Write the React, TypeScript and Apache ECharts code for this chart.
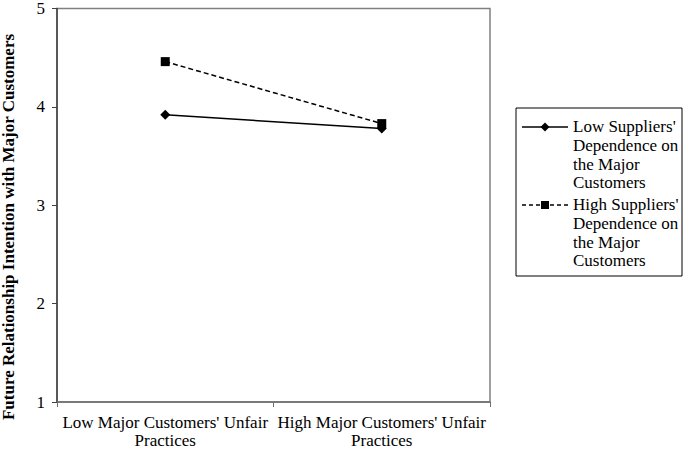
import React, { useEffect, useRef } from "react";
import * as echarts from "echarts";

const categories = [
  "Low Major Customers' Unfair\nPractices",
  "High Major Customers' Unfair\nPractices",
];
const lowDependence = [3.92, 3.78];
const highDependence = [4.46, 3.83];
const lowName = "Low Suppliers'\nDependence on\nthe Major\nCustomers";
const highName = "High Suppliers'\nDependence on\nthe Major\nCustomers";
const yAxisTitle = "Future Relationship Intention with Major Customers";

const FONT = "Liberation Serif";

export default function App() {
  const ref = useRef<HTMLDivElement>(null);
  useEffect(() => {
    if (!ref.current) return;
    const chart = echarts.init(ref.current, null, { renderer: "svg" });
    const diamond = (cx: number, cy: number, r: number) => [
      [cx, cy - r],
      [cx + r, cy],
      [cx, cy + r],
      [cx - r, cy],
    ];
    chart.setOption({
      animation: false,
      backgroundColor: "#fff",
      textStyle: { fontFamily: FONT },
      grid: {
        left: 57,
        top: 6,
        right: 195,
        bottom: 46,
        show: true,
        borderColor: "#808080",
        borderWidth: 1.5,
        backgroundColor: "transparent",
      },
      xAxis: {
        type: "category",
        data: categories,
        boundaryGap: true,
        axisLine: { show: true, lineStyle: { color: "#6e6e6e", width: 1.5 } },
        axisTick: { show: true, length: 5, lineStyle: { color: "#6e6e6e", width: 1 } },
        axisLabel: {
          margin: 11,
          color: "#000",
          fontFamily: FONT,
          fontSize: 17,
          lineHeight: 18,
          interval: 0,
        },
        splitLine: { show: false },
      },
      yAxis: {
        type: "value",
        min: 1,
        max: 5,
        interval: 1,
        axisLine: { show: true, lineStyle: { color: "#404040", width: 1.5 } },
        axisTick: { show: true, length: 5, lineStyle: { color: "#404040", width: 1 } },
        axisLabel: { margin: 12, color: "#000", fontFamily: FONT, fontSize: 17 },
        splitLine: { show: false },
      },
      series: [
        {
          name: lowName,
          type: "line",
          data: lowDependence,
          symbol: "diamond",
          symbolSize: 10,
          lineStyle: { color: "#000", width: 1.5, type: "solid" },
          itemStyle: { color: "#000" },
          z: 3,
        },
        {
          name: highName,
          type: "line",
          data: highDependence,
          symbol: "rect",
          symbolSize: 9,
          lineStyle: { color: "#000", width: 1.5, type: [5, 3] },
          itemStyle: { color: "#000" },
          z: 4,
        },
      ],
      graphic: [
        {
          type: "text",
          x: 8,
          y: 227,
          rotation: Math.PI / 2,
          style: {
            text: yAxisTitle,
            fontFamily: FONT,
            fontSize: 17,
            fontWeight: "bold",
            fill: "#000",
            align: "center",
            verticalAlign: "middle",
          },
        },
        {
          type: "rect",
          shape: { x: 516, y: 108, width: 166, height: 168 },
          style: { fill: "#fff", stroke: "#000", lineWidth: 1 },
        },
        {
          type: "line",
          shape: { x1: 522, y1: 127, x2: 568, y2: 127 },
          style: { stroke: "#000", lineWidth: 1.5 },
        },
        {
          type: "polygon",
          shape: { points: diamond(545, 127, 4.5) },
          style: { fill: "#000" },
        },
        {
          type: "text",
          x: 573,
          y: 117.5,
          style: {
            text: lowName,
            fontFamily: FONT,
            fontSize: 17,
            lineHeight: 18.7,
            fill: "#000",
            align: "left",
            verticalAlign: "top",
          },
        },
        {
          type: "line",
          shape: { x1: 522, y1: 205, x2: 568, y2: 205 },
          style: { stroke: "#000", lineWidth: 1.5, lineDash: [4, 3] },
        },
        {
          type: "rect",
          shape: { x: 541, y: 201, width: 8, height: 8 },
          style: { fill: "#000" },
        },
        {
          type: "text",
          x: 573,
          y: 195.5,
          style: {
            text: highName,
            fontFamily: FONT,
            fontSize: 17,
            lineHeight: 18.7,
            fill: "#000",
            align: "left",
            verticalAlign: "top",
          },
        },
      ],
    });
    return () => chart.dispose();
  }, []);
  return (
    <div
      ref={ref}
      style={{ position: "fixed", left: 0, top: 0, width: 685, height: 449 }}
    />
  );
}
